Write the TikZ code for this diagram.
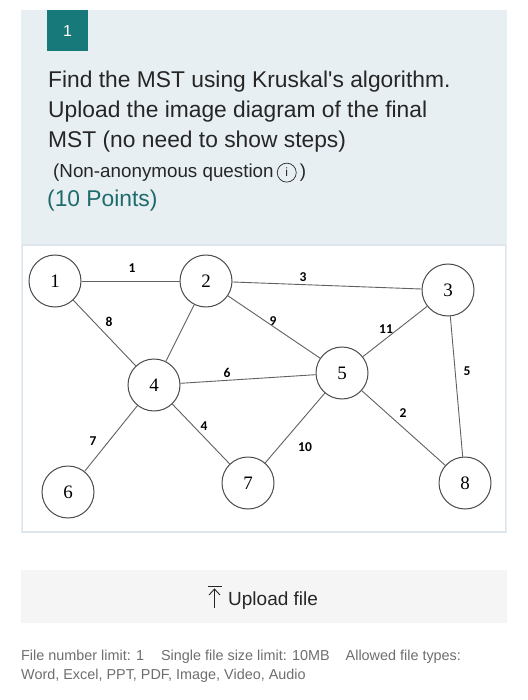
\documentclass[tikz,border=0pt]{standalone}
\usepackage{fontspec}
\setmainfont{Liberation Sans}
\newfontfamily\vertexfont{Liberation Serif}
\newfontfamily\weightfont{Carlito}
\usetikzlibrary{positioning}
\definecolor{panelbg}{HTML}{E8EFF3}
\definecolor{framecol}{HTML}{DDE6EC}
\definecolor{tealbox}{HTML}{17797A}
\definecolor{pointscol}{HTML}{1E6B6C}
\definecolor{btnbg}{HTML}{F5F5F5}
\definecolor{notecol}{HTML}{6E6E6E}
\definecolor{textcol}{HTML}{262626}
\newcommand{\fs}[1]{\fontsize{#1}{#1}\selectfont}
\tikzset{
  qline/.style={anchor=base west, inner sep=0, text=textcol, font=\fs{22.8}},
  vertex/.style={circle, draw=black!70, line width=1pt, fill=white, minimum size=52pt, inner sep=0, font=\vertexfont\fs{19}},
  edge/.style={draw=black!62, line width=0.9pt},
  weight/.style={inner sep=0, font=\weightfont\bfseries\fs{13.5}},
  note/.style={anchor=base west, inner sep=0, text=notecol, font=\fs{14.4}}
}
\begin{document}
\begin{tikzpicture}[x=1pt,y=-1pt]
    \useasboundingbox (0,0) rectangle (527,700);
    % question panel
    \fill[panelbg] (21,10) rectangle (507,533);
    \fill[tealbox] (47,10) rectangle (88,51);
    \node[text=white, font=\fs{16}] (qnum) at (67.5,31) {1};
    \node[qline] (q1) at (48,88) {Find the MST using Kruskal\textquotesingle s algorithm.};
    \node[qline] (q2) at (48,118) {Upload the image diagram of the final};
    \node[qline] (q3) at (48,148) {MST (no need to show steps)};
    \node[qline, font=\fs{18.8}] (q4) at (53,178) {(Non-anonymous question};
    \node[circle, draw=textcol, line width=0.7pt, minimum size=19pt, inner sep=0, font=\fs{12}, text=textcol, right=3pt of q4.east, yshift=0.5pt] (info) {i};
    \node[inner sep=0, text=textcol, font=\fs{18.8}, right=3pt of info] (q5) {)};
    \node[qline, text=pointscol] (pts) at (47,207) {(10 Points)};
    % graph image
    \draw[framecol, fill=white, line width=1.2pt] (22.5,245) rectangle (505.5,532);
    % vertices
    \node[vertex] (v1) at (55,281) {1};
    \node[vertex] (v2) at (206,281) {2};
    \node[vertex] (v3) at (448,290) {3};
    \node[vertex] (v4) at (154,385) {4};
    \node[vertex] (v5) at (342,373) {5};
    \node[vertex] (v6) at (68,492) {6};
    \node[vertex] (v7) at (248,483) {7};
    \node[vertex] (v8) at (465,483) {8};
    % edges
    \draw[edge] (v1) -- (v2);
    \draw[edge] (v1) -- (v4);
    \draw[edge] (v2) -- (v4);
    \draw[edge] (v2) -- (v3);
    \draw[edge] (v2) -- (v5);
    \draw[edge] (v4) -- (v5);
    \draw[edge] (v4) -- (v6);
    \draw[edge] (v4) -- (v7);
    \draw[edge] (v3) -- (v5);
    \draw[edge] (v3) -- (v8);
    \draw[edge] (v5) -- (v8);
    \draw[edge] (v5) -- (v7);
    % weights
    \node[weight] (w12) at (132,268) {1};
    \node[weight] (w14) at (109,322) {8};
    \node[weight] (w45) at (227,373) {6};
    \node[weight] (w47) at (204,426) {4};
    \node[weight] (w46) at (93,441) {7};
    \node[weight] (w23) at (303,277) {3};
    \node[weight] (w25) at (273,321) {9};
    \node[weight] (w35) at (386,329) {11};
    \node[weight] (w38) at (467,371) {5};
    \node[weight] (w58) at (403,413) {2};
    \node[weight] (w57) at (305,447) {10};
    % upload button
    \fill[btnbg] (21,570) rectangle (507,623);
    \node[anchor=base west, inner sep=0, text=textcol, font=\fs{19}] (upl) at (228,605) {Upload file};
    \coordinate (arrtop) at (214.5,589);
    \coordinate (arrbot) at (214.5,608);
    \draw[textcol, line width=0.9pt] (207.5,586) -- (221.5,586);
    \draw[textcol, line width=0.9pt] (arrbot) -- (arrtop);
    \draw[textcol, line width=0.9pt] (209,595) -- (arrtop) -- (220,595);
    % footer note
    \node[note] (n1) at (21,660) {File number limit: 1\hspace{13pt} Single file size limit: 10MB\hspace{12pt} Allowed file types:};
    \node[note] (n2) at (21,679) {Word, Excel, PPT, PDF, Image, Video, Audio};
\end{tikzpicture}
\end{document}
